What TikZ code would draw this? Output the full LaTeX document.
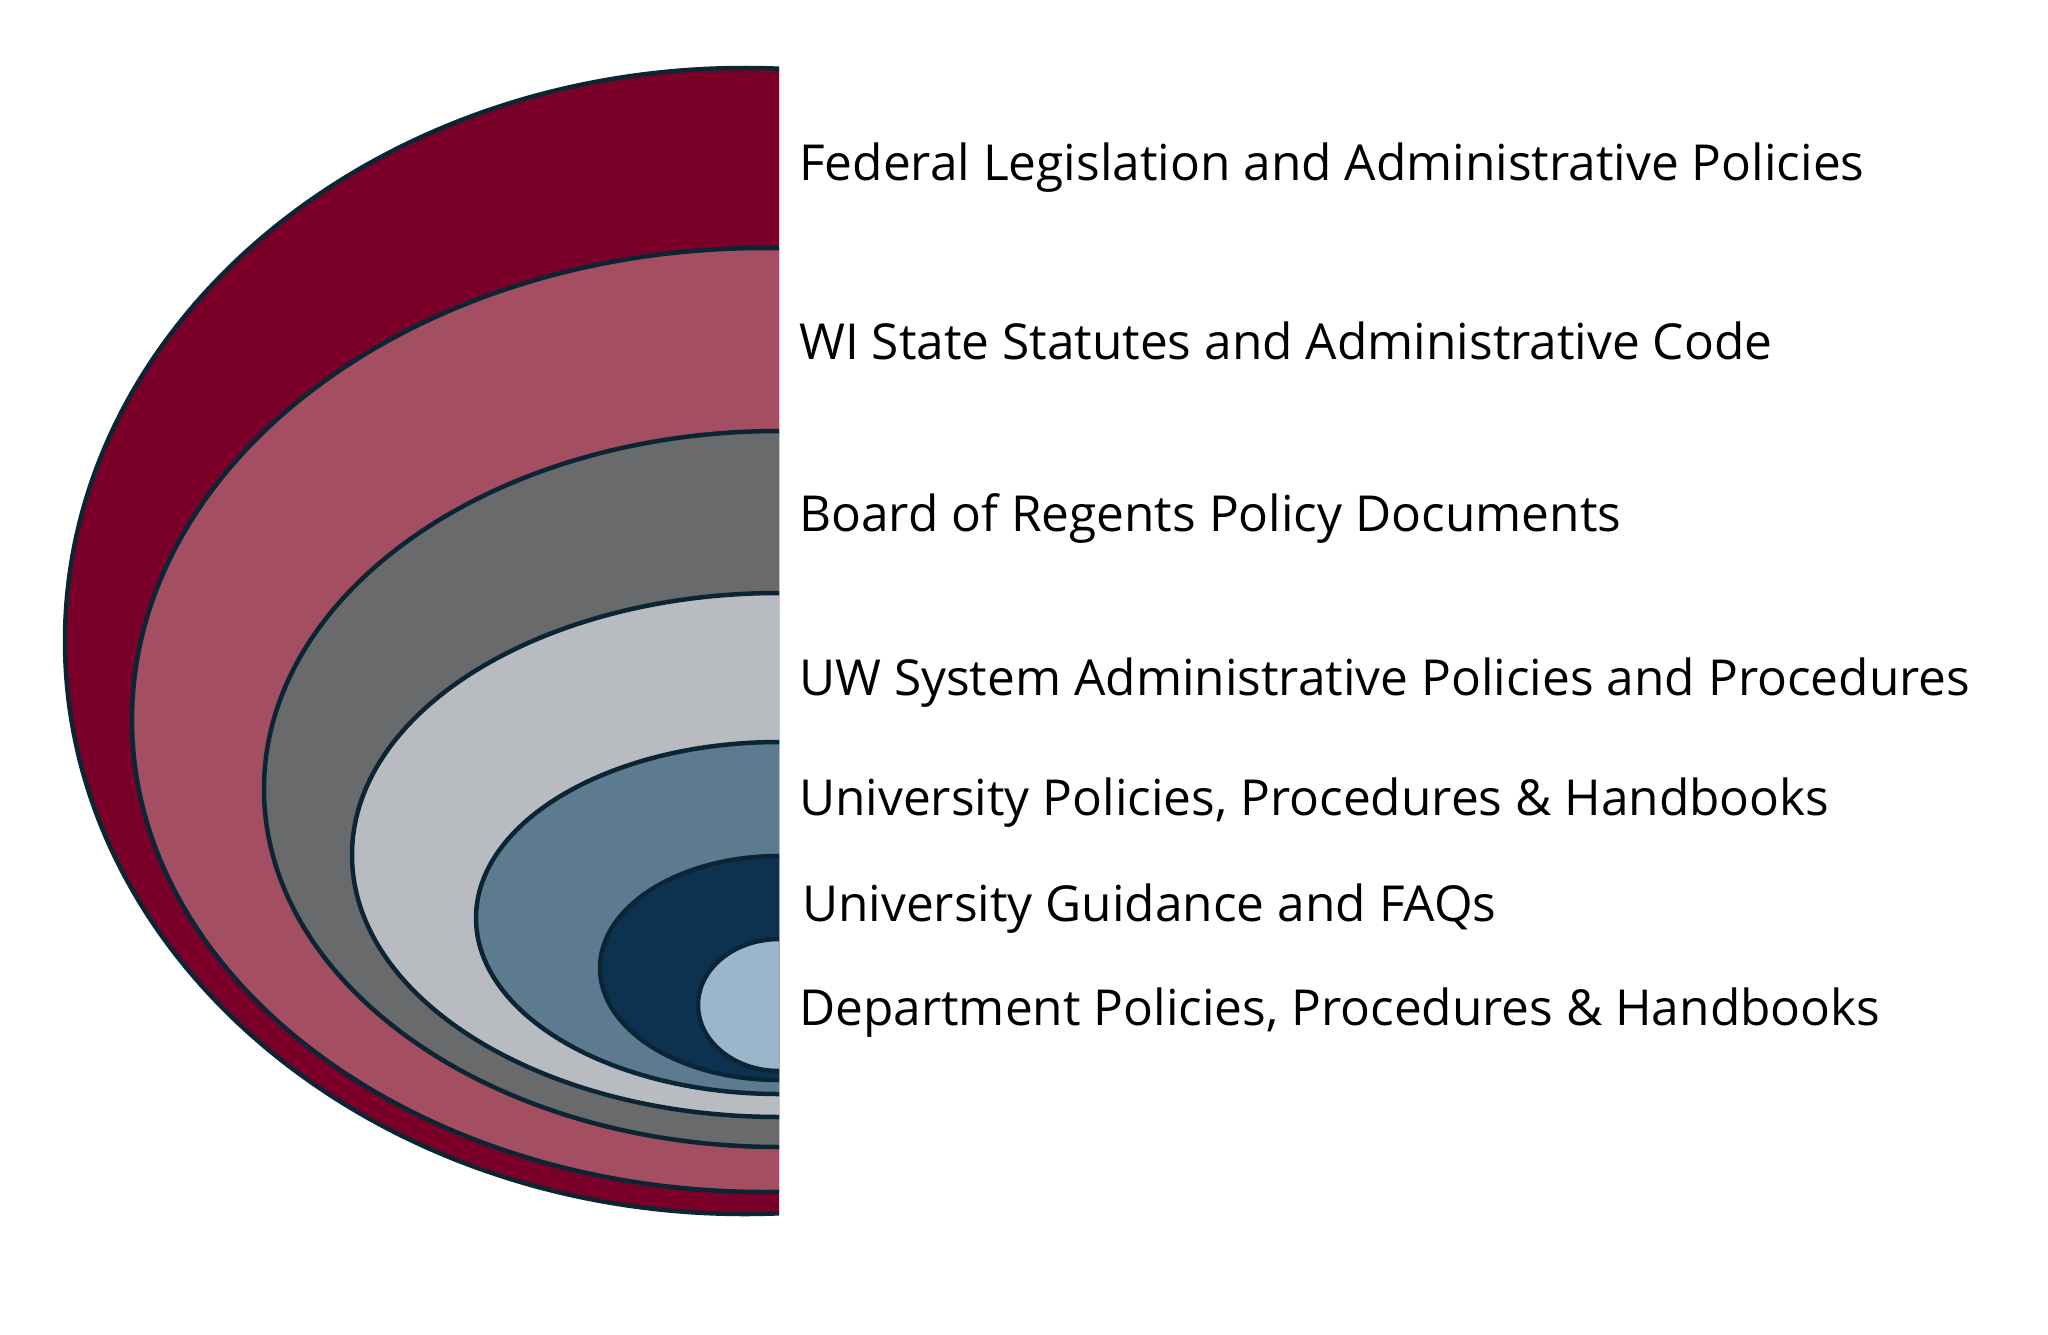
\documentclass[tikz,border=0pt]{standalone}
\usepackage{fontspec}
\setmainfont{Open Sans}
\definecolor{cOuter}{HTML}{7B0029}
\definecolor{cPink}{HTML}{A34E61}
\definecolor{cDgray}{HTML}{696A6C}
\definecolor{cLgray}{HTML}{B8BCC0}
\definecolor{cSteel}{HTML}{5C7B8F}
\definecolor{cNavy}{HTML}{0D3250}
\definecolor{cLblue}{HTML}{9BB6CB}
\definecolor{cStroke}{HTML}{0B2535}
\tikzset{
  ring/.style={fill=#1, draw=cStroke, line width=4.5pt},
  lbl/.style={anchor=base west, inner sep=0pt, font=\fontsize{49.6}{58}\selectfont, text=black}
}
\begin{document}
\begin{tikzpicture}[x=1pt,y=-1pt]
\useasboundingbox (0,0) rectangle (2048,1335);
\fill[white] (0,0) rectangle (2048,1335);
\begin{scope}
\clip (0,0) rectangle (779,1335);
\draw[ring=cOuter] (745,641) ellipse [x radius=680pt, y radius=573pt];
\draw[ring=cPink]  (765,720) ellipse [x radius=633pt, y radius=472pt];
\draw[ring=cDgray] (779,789) ellipse [x radius=515pt, y radius=358pt];
\draw[ring=cLgray] (779,855) ellipse [x radius=427pt, y radius=262pt];
\draw[ring=cSteel] (779,918) ellipse [x radius=303pt, y radius=176pt];
\draw[ring=cNavy]  (779,968) ellipse [x radius=179pt, y radius=112pt];
\draw[ring=cLblue] (779,1005) ellipse [x radius=81pt, y radius=66pt];
\end{scope}
\node[lbl] (t1) at (799,180) {Federal Legislation and Administrative Policies};
\node[lbl] (t2) at (799,359) {WI State Statutes and Administrative Code};
\node[lbl] (t3) at (799,531) {Board of Regents Policy Documents};
\node[lbl] (t4) at (799,695) {UW System Administrative Policies and Procedures};
\node[lbl] (t5) at (799,815) {University Policies, Procedures \& Handbooks};
\node[lbl] (t6) at (802,921) {University Guidance and FAQs};
\node[lbl] (t7) at (799,1025) {Department Policies, Procedures \& Handbooks};
\end{tikzpicture}
\end{document}
